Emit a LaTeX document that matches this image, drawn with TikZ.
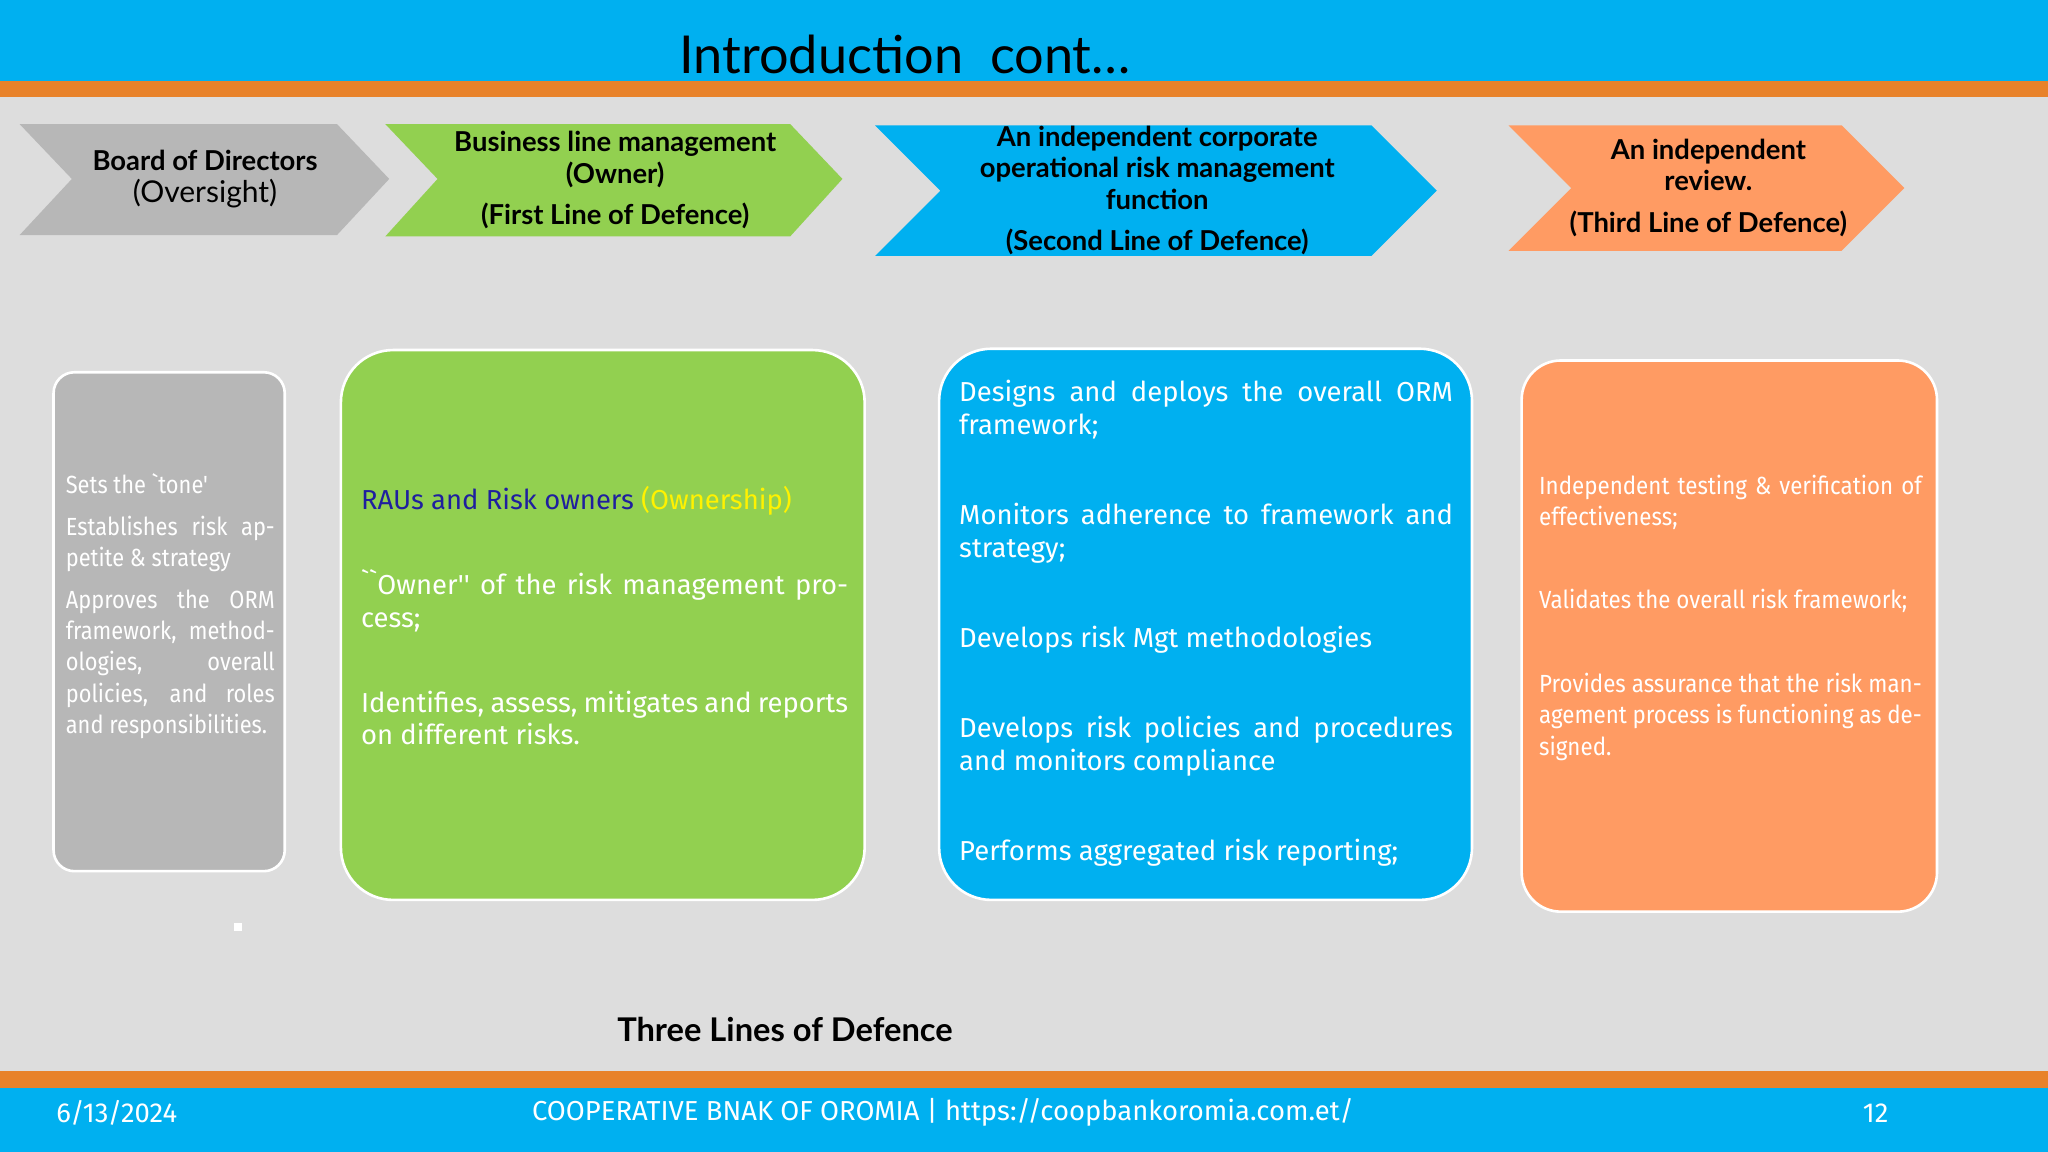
\documentclass[tikz,border=0pt]{standalone}
\usepackage{fontspec}
\setmainfont{Lato}
\newfontfamily\bodyf{Fira Sans}
\definecolor{topblue}{HTML}{00B0F0}
\definecolor{bandor}{HTML}{E8822A}
\definecolor{bggray}{HTML}{DDDDDD}
\definecolor{chgray}{HTML}{B7B7B7}
\definecolor{chgreen}{HTML}{92D050}
\definecolor{chor}{HTML}{FF9B63}
\definecolor{raublue}{HTML}{1F1F9F}
\begin{document}
\begin{tikzpicture}[x=0.5pt,y=-0.5pt,
  hdr/.style={font=\bfseries\fontsize{10.5}{12}\selectfont,align=center,text=black},
  body/.style={anchor=north west,align=justify,text=white,inner sep=0pt,font=\bodyf\fontsize{10.5}{12.5}\selectfont},
  card/.style={draw=white,line width=1pt}]
\fill[bggray] (0,0) rectangle (1568,882);
\useasboundingbox (0,0) rectangle (1568,882);
\fill[topblue] (0,0) rectangle (1568,62);
\fill[bandor] (0,62) rectangle (1568,74);
\node (title) at (693,42) {\fontsize{20}{24}\selectfont Introduction\ \ cont\ldots};
% chevrons
\fill[chgray] (15,95)--(258,95)--(298,137)--(258,180)--(15,180)--(55,137)--cycle;
\fill[chgreen] (295,95)--(605,95)--(645,137)--(605,181)--(295,181)--(335,137)--cycle;
\fill[topblue] (670,96)--(1050,96)--(1100,146)--(1050,196)--(670,196)--(720,146)--cycle;
\fill[chor] (1155,96)--(1410,96)--(1458,144)--(1410,192)--(1155,192)--(1203,144)--cycle;
\node[hdr] (h1) at (157,137) {Board of Directors\\{\mdseries\fontsize{11.5}{13}\selectfont (Oversight)}};
\node[hdr] (h2) at (471,138) {Business line management\\(Owner)\\[4pt](First Line of Defence)};
\node[hdr] (h3) at (886,146) {An independent corporate\\operational risk management\\function\\[4pt](Second Line of Defence)};
\node[hdr] (h4) at (1308,144) {An independent\\review.\\[4pt](Third Line of Defence)};
% cards
\fill[chgray,card,rounded corners=8pt] (41,285) rectangle (218,667);
\fill[chgreen,card,rounded corners=20pt] (261,268) rectangle (662,689);
\fill[topblue,card,rounded corners=20pt] (719,267) rectangle (1127,689);
\fill[chor,card,rounded corners=15pt] (1165,276) rectangle (1483,698);
\node[body,text width=80pt,font=\bodyf\fontsize{9.5}{12}\selectfont\addfontfeature{FakeStretch=0.88}] (t1) at (50,362) {Sets the `tone'\par\vspace{4pt}
Establishes risk appetite \& strategy\par\vspace{4pt}
Approves the ORM framework, methodologies, overall policies, and roles and responsibilities.};
\node[body,text width=186.5pt] (t2) at (276,372) {{\color{raublue}RAUs and Risk owners} {\color{yellow}(Ownership)}\par\vspace{20pt}
``Owner'' of the risk management process;\par\vspace{20pt}
Identifies, assess, mitigates and reports on different risks.};
\node[body,text width=189pt] (t3) at (734,291) {Designs and deploys the overall ORM framework;\par\vspace{22pt}
Monitors adherence to framework and strategy;\par\vspace{22pt}
Develops risk Mgt methodologies\par\vspace{22pt}
Develops risk policies and procedures and monitors compliance\par\vspace{22pt}
Performs aggregated risk reporting;};
\node[body,text width=146.5pt,font=\bodyf\fontsize{9.5}{12}\selectfont\addfontfeature{FakeStretch=0.9}] (t4) at (1178,363) {Independent testing \& verification of effectiveness;\par\vspace{20pt}
Validates the overall risk framework;\par\vspace{20pt}
Provides assurance that the risk management process is functioning as designed.};
\fill[white] (179,707) rectangle (185,713);
\node[font=\bfseries\fontsize{12.5}{14}\selectfont] (cap) at (601,788) {Three Lines of Defence};
% footer
\fill[bandor] (0,820) rectangle (1568,833);
\fill[topblue] (0,833) rectangle (1568,882);
\node[text=white,anchor=west,font=\bodyf\fontsize{10.5}{12}\selectfont] (d) at (36,852) {6/13/2024};
\node[text=white,font=\bodyf\fontsize{10.5}{12}\selectfont] (f) at (722,852) {COOPERATIVE BNAK OF OROMIA | https://coopbankoromia.com.et/};
\node[text=white,font=\bodyf\fontsize{10.5}{12}\selectfont] (p) at (1436,852) {12};
\end{tikzpicture}
\end{document}
